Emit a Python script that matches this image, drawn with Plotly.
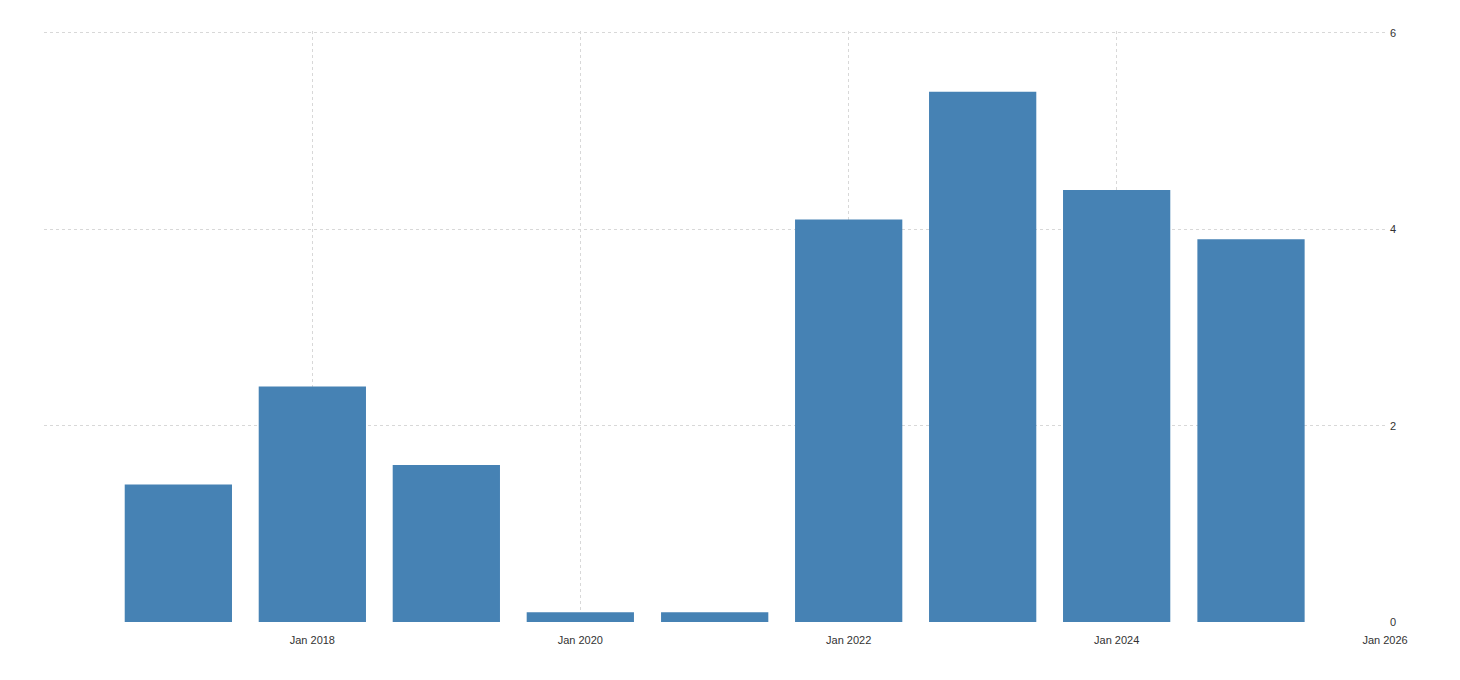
import plotly.graph_objects as go

years = ["2017-01-01", "2018-01-01", "2019-01-01", "2020-01-01", "2021-01-01",
         "2022-01-01", "2023-01-01", "2024-01-01", "2025-01-01"]
values = [1.4, 2.4, 1.6, 0.1, 0.1, 4.1, 5.4, 4.4, 3.9]

bar_width_ms = 0.8 * 365.25 * 86400000

fig = go.Figure(go.Bar(x=years, y=values, width=bar_width_ms,
                       marker_color="#4682b4", marker_line_width=0))

fig.update_xaxes(
    range=["2016-01-01", "2026-01-01"],
    tickvals=["2018-01-01", "2020-01-01", "2022-01-01", "2024-01-01", "2026-01-01"],
    ticktext=["Jan 2018", "Jan 2020", "Jan 2022", "Jan 2024", "Jan 2026"],
    showgrid=True, gridcolor="#d8d8d8", griddash="dot",
    showline=False, zeroline=False, ticks="", ticklabelstandoff=10,
)
fig.update_yaxes(
    side="right", range=[0, 6.02], tickvals=[0, 2, 4, 6],
    showgrid=True, gridcolor="#d8d8d8", griddash="dot", zeroline=False,
    ticklabelstandoff=4,
)
fig.update_layout(
    width=1452, height=672,
    margin=dict(l=36, r=75, t=23, b=58),
    plot_bgcolor="white", paper_bgcolor="white",
    font=dict(family="Arial, Liberation Sans", size=11, color="#333333"),
    showlegend=False,
)
fig.write_html("out.html")
